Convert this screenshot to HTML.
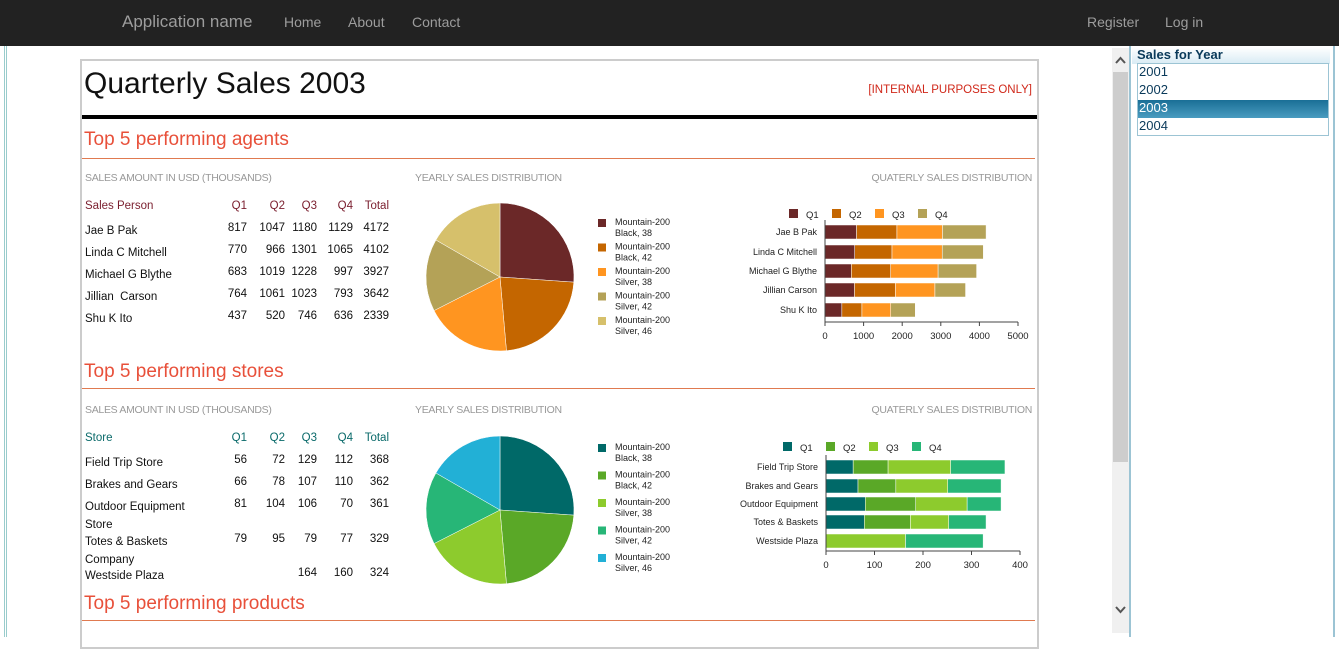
<!DOCTYPE html>
<html><head><meta charset="utf-8"><style>
*{margin:0;padding:0;box-sizing:border-box}
body{width:1339px;height:637px;overflow:hidden;background:#fff;font-family:"Liberation Sans",sans-serif;position:relative}
.a{position:absolute;white-space:nowrap}
.nav{left:0;top:0;width:1339px;height:46px;background:#222}
.nav span{position:absolute;color:#9d9d9d;font-size:14px;top:14px}
.t{font-size:11.5px;color:#111}
.r{text-align:right;width:40px}
.h{color:#e8503a;font-size:19px}
.sub{font-size:10.5px;color:#999;letter-spacing:-0.3px}
.rr{text-align:right;width:300px}
.hr{height:1px;background:#e07a50}
</style></head><body>
<div class="a nav">
<span style="left:122px;top:12px;font-size:17px">Application name</span>
<span style="left:284px">Home</span><span style="left:348px">About</span><span style="left:412px">Contact</span>
<span style="left:1087px">Register</span><span style="left:1165px">Log in</span>
</div>
<div class="a" style="left:4px;top:46px;width:1px;height:591px;background:#9cc"></div>
<div class="a" style="left:6px;top:46px;width:1px;height:591px;background:#9cc"></div>
<div class="a" style="left:80px;top:59px;width:959px;height:590px;border:2px solid #ccc"></div>
<div class="a" style="left:84px;top:67px;font-size:30px;color:#111">Quarterly Sales 2003</div>
<div class="a rr" style="left:732px;top:84px;font-size:11.5px;color:#d0281a">[INTERNAL PURPOSES ONLY]</div>
<div class="a" style="left:82px;top:115px;width:955px;height:4px;background:#000"></div>

<div class="a h" style="left:84px;top:129px">Top 5 performing agents</div>
<div class="a hr" style="left:82px;top:158px;width:953px"></div>
<div class="a sub" style="left:85px;top:172px">SALES AMOUNT IN USD (THOUSANDS)</div>
<div class="a sub" style="left:415px;top:172px">YEARLY SALES DISTRIBUTION</div>
<div class="a sub rr" style="left:732px;top:172px">QUATERLY SALES DISTRIBUTION</div>

<div class="a h" style="left:84px;top:361px">Top 5 performing stores</div>
<div class="a hr" style="left:82px;top:388px;width:953px"></div>
<div class="a sub" style="left:85px;top:404px">SALES AMOUNT IN USD (THOUSANDS)</div>
<div class="a sub" style="left:415px;top:404px">YEARLY SALES DISTRIBUTION</div>
<div class="a sub rr" style="left:732px;top:404px">QUATERLY SALES DISTRIBUTION</div>

<div class="a h" style="left:84px;top:593px">Top 5 performing products</div>
<div class="a hr" style="left:82px;top:620px;width:953px"></div>

<div id="tables"></div>

<svg class="a" style="left:0;top:0" width="1339" height="637" id="sv" font-family="Liberation Sans, sans-serif"></svg>

<div class="a" style="left:1112px;top:48px;width:17px;height:585px;background:#f0f0f0"></div>
<div class="a" style="left:1113px;top:72px;width:15px;height:390px;background:#cdcdcd"></div>
<svg class="a" style="left:1112px;top:52px" width="17" height="16"><path d="M4 11 L8.5 6 L13 11" stroke="#555" stroke-width="2" fill="none"/></svg>
<svg class="a" style="left:1112px;top:602px" width="17" height="16"><path d="M4 5 L8.5 10 L13 5" stroke="#555" stroke-width="2" fill="none"/></svg>
<div class="a" style="left:1129px;top:46px;width:2px;height:591px;background:#9cc4d4"></div>
<div class="a" style="left:1333px;top:46px;width:2px;height:591px;background:#9cc4d4"></div>
<div class="a" style="left:1132px;top:47px;width:198px;height:17px;background:linear-gradient(#fff,#d8ebf4)"></div>
<div class="a" style="left:1137px;top:47px;font-size:13px;font-weight:bold;color:#0a3a5a">Sales for Year</div>
<div class="a" style="left:1137px;top:63px;width:192px;height:73px;border:1px solid #9cc4d4;font-size:13px;color:#0a3a5a">
<div style="height:18px;padding-left:1px">2001</div><div style="height:18px;padding-left:1px">2002</div>
<div style="height:18px;padding-left:1px;color:#fff;background:linear-gradient(#1a6f96,#4a9cc0)">2003</div><div style="height:18px;padding-left:1px">2004</div>
</div>

<script>
var T=document.getElementById('tables'),h='';
function tbl(y0,hc,head,rows){
 var xs=[247,285,317,353,389];
 h+='<div class="a t" style="left:85px;top:'+(y0-8)+'px;color:'+hc+'">'+head[0]+'</div>';
 for(var i=1;i<6;i++)h+='<div class="a t r" style="left:'+(xs[i-1]-40)+'px;top:'+(y0-8)+'px;color:'+hc+'">'+head[i]+'</div>';
 rows.forEach(function(r){
  var n=r[0].split('|');
  h+='<div class="a t" style="left:85px;top:'+(r[6]-8)+'px;line-height:18px">'+n.join('<br>')+'</div>';
  for(var i=1;i<6;i++)h+='<div class="a t r" style="left:'+(xs[i-1]-40)+'px;top:'+(r[6]-8)+'px">'+r[i]+'</div>';
 });
}
tbl(208,'#7a1e2e',['Sales Person','Q1','Q2','Q3','Q4','Total'],[
['Jae B Pak',817,1047,1180,1129,4172,230],['Linda C Mitchell',770,966,1301,1065,4102,252],
['Michael G Blythe',683,1019,1228,997,3927,274],['Jillian&nbsp; Carson',764,1061,1023,793,3642,296],
['Shu K Ito',437,520,746,636,2339,318]]);
tbl(440,'#0a6a6a',['Store','Q1','Q2','Q3','Q4','Total'],[
['Field Trip Store',56,72,129,112,368,462],['Brakes and Gears',66,78,107,110,362,484],
['Outdoor Equipment|Store',81,104,106,70,361,506],['Totes &amp; Baskets|Company',79,95,79,77,329,541],
['Westside Plaza','','',164,160,324,575]]);
T.innerHTML=h;

var s='';
function pie(cx,cy,r,cols){
 var a=[0,94,175,243,300,360];
 for(var i=0;i<5;i++){
  var a1=(a[i]-90)*Math.PI/180,a2=(a[i+1]-90)*Math.PI/180;
  s+='<path d="M'+cx+','+cy+' L'+(cx+r*Math.cos(a1))+','+(cy+r*Math.sin(a1))+' A'+r+','+r+' 0 0 1 '+(cx+r*Math.cos(a2))+','+(cy+r*Math.sin(a2))+' Z" fill="'+cols[i]+'" stroke="#fff" stroke-width="0.5"/>';
 }
}
function legend(x,y,cols,dy){
 var L=['Black, 38','Black, 42','Silver, 38','Silver, 42','Silver, 46'];
 for(var i=0;i<5;i++){var yy=y+i*dy;
  s+='<rect x="'+x+'" y="'+(yy-4)+'" width="8" height="8" fill="'+cols[i]+'"/>';
  s+='<text x="'+(x+17)+'" y="'+(yy+2)+'" font-size="9" fill="#222">Mountain-200</text><text x="'+(x+17)+'" y="'+(yy+13)+'" font-size="9" fill="#222">'+L[i]+'</text>';}
}
function bars(x0,scale,max,step,axY,ys,data,names,cols,legY,legX){
 var q=['Q1','Q2','Q3','Q4'];
 for(var i=0;i<4;i++){s+='<rect x="'+(legX+i*43)+'" y="'+(legY-5)+'" width="9" height="9" fill="'+cols[i]+'"/><text x="'+(legX+i*43+17)+'" y="'+(legY+4)+'" font-size="9.5" fill="#222">'+q[i]+'</text>';}
 ys.forEach(function(y,j){var x=x0;
  s+='<text x="'+(x0-8)+'" y="'+(y+3)+'" font-size="9" text-anchor="end" fill="#222">'+names[j]+'</text>';
  data[j].forEach(function(v,i){if(v){s+='<rect x="'+x+'" y="'+(y-7)+'" width="'+(v*scale)+'" height="14" fill="'+cols[i]+'" stroke="#fff" stroke-width="0.5"/>';x+=v*scale;}});
 });
 s+='<line x1="'+x0+'" y1="'+(ys[0]-12)+'" x2="'+x0+'" y2="'+axY+'" stroke="#444"/>';
 s+='<line x1="'+x0+'" y1="'+axY+'" x2="'+(x0+max*scale)+'" y2="'+axY+'" stroke="#444"/>';
 for(var v=0;v<=max;v+=step){var xx=x0+v*scale;s+='<line x1="'+xx+'" y1="'+axY+'" x2="'+xx+'" y2="'+(axY+4)+'" stroke="#444"/><text x="'+xx+'" y="'+(axY+17)+'" font-size="9.5" text-anchor="middle" fill="#222">'+v+'</text>';}
}
var c1=['#6b2828','#c46600','#ff9520','#b4a257','#d6c06b'];
var c2=['#006968','#5aa827','#8dcb2d','#27b677','#22b0d6'];
pie(500,277,74,c1);legend(598,223,c1,24.5);
pie(500,510,74,c2);legend(598,448,c2,27.5);
bars(825,0.0386,5000,1000,322,[232,252,271,290,310],
 [[817,1047,1180,1129],[770,966,1301,1065],[683,1019,1228,997],[764,1061,1023,793],[437,520,746,636]],
 ['Jae B Pak','Linda C Mitchell','Michael G Blythe','Jillian Carson','Shu K Ito'],c1,214,789);
bars(826,0.485,400,100,551,[467,486,504,522,541],
 [[56,72,129,112],[66,78,107,110],[81,104,106,70],[79,95,79,77],[0,0,164,160]],
 ['Field Trip Store','Brakes and Gears','Outdoor Equipment','Totes & Baskets','Westside Plaza'],c2,447,783);
document.getElementById('sv').innerHTML=s;
</script>
</body></html>
